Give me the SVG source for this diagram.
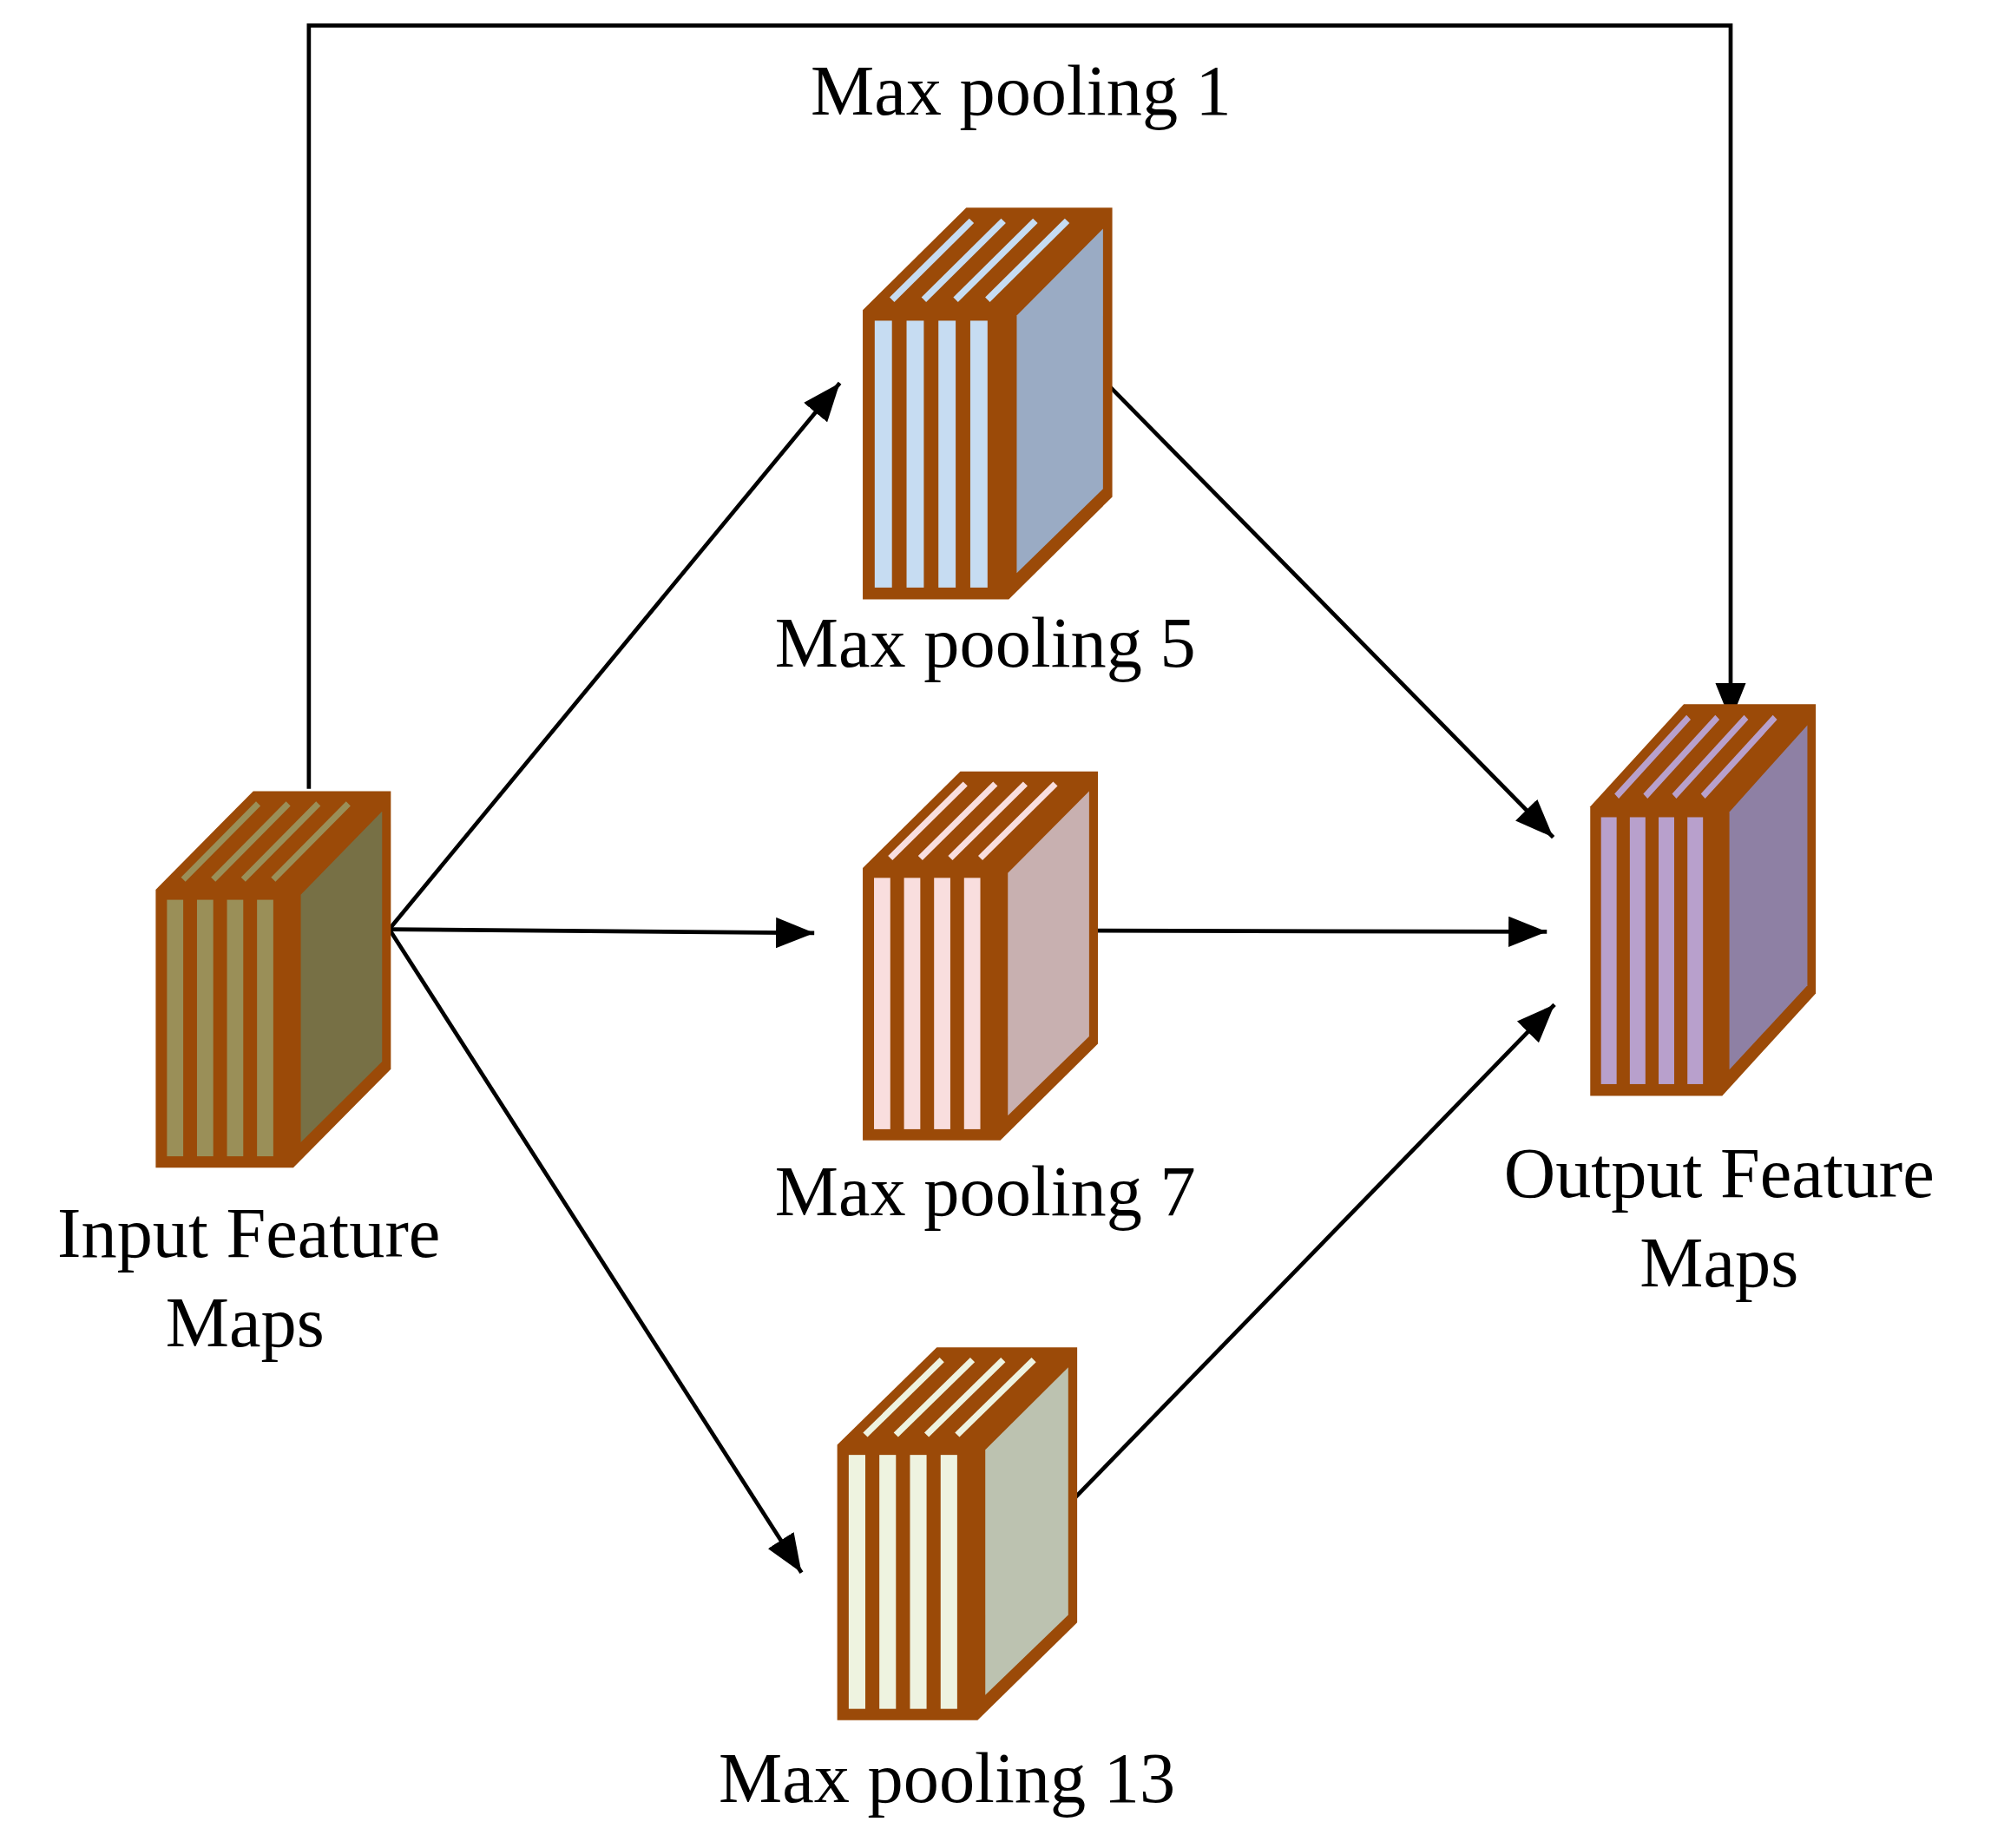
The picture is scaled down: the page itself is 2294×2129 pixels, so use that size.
<svg xmlns="http://www.w3.org/2000/svg" xmlns:xlink="http://www.w3.org/1999/xlink" width="2294" height="2129" viewBox="0 0 2294 2129">
<style>
.lbl{font-family:"Liberation Serif",serif;font-size:56px;fill:#000;text-anchor:middle}
.con{stroke:#000;stroke-width:3.2;fill:none}
</style>
<defs>
<marker id="ah" viewBox="0 0 10 10" refX="10" refY="5" markerWidth="9" markerHeight="8" markerUnits="userSpaceOnUse" orient="auto" style="overflow:visible">
<path d="M0,0 L10,5 L0,10 Z" fill="#000" transform="scale(1)"/>
</marker>
<marker id="a" viewBox="0 0 30 24" refX="30" refY="12" markerWidth="30" markerHeight="24" markerUnits="userSpaceOnUse" orient="auto">
<path d="M0,0 L30,12 L0,24 Z" fill="#000"/>
</marker>
<g id="blk">
<polygon points="0,0 78,-78 188,-78 188,142 110,220 0,220" fill="#9b4a08"/>
<polygon points="116,4 181,-62 181,136 116,200"/>
<rect x="9" y="8" width="13" height="203" fill="currentColor"/>
<rect x="33" y="8" width="13" height="203" fill="currentColor"/>
<rect x="57" y="8" width="13" height="203" fill="currentColor"/>
<rect x="81" y="8" width="13" height="203" fill="currentColor"/>
<g stroke="currentColor" stroke-width="5" fill="none">
<line x1="22" y1="-8" x2="82" y2="-68"/>
<line x1="46" y1="-8" x2="106" y2="-68"/>
<line x1="70" y1="-8" x2="130" y2="-68"/>
<line x1="94" y1="-8" x2="154" y2="-68"/>
</g>
</g>
</defs>
<rect width="2294" height="2129" fill="#fff"/>
<g transform="scale(1.4705)">
<g id="connectors">
<polyline class="con" points="242,618 242,20 1356,20 1356,565" marker-end="url(#a)"/>
<line class="con" x1="305" y1="728" x2="658" y2="300" marker-end="url(#a)"/>
<line class="con" x1="305" y1="728" x2="638" y2="731" marker-end="url(#a)"/>
<line class="con" x1="305" y1="728" x2="628" y2="1232" marker-end="url(#a)"/>
<line class="con" x1="852" y1="285" x2="1217" y2="656" marker-end="url(#a)"/>
<line class="con" x1="822" y1="729" x2="1212" y2="730" marker-end="url(#a)"/>
<line class="con" x1="795" y1="1222" x2="1218" y2="787" marker-end="url(#a)"/>
</g>
<g id="input"><use xlink:href="#blk" transform="translate(122,697) scale(0.98,0.99)" fill="#777045" color="#9a8f58"/>
<text class="lbl" x="195" y="985">Input Feature</text><text class="lbl" x="192" y="1055">Maps</text></g>
<g id="mp5"><use xlink:href="#blk" transform="translate(676,243) scale(1.04,1.03)" fill="#9aabc4" color="#c6dcf2"/>
<text class="lbl" x="772" y="522">Max pooling 5</text></g>
<g id="mp7"><use xlink:href="#blk" transform="translate(676,680) scale(0.98,0.97)" fill="#c8b0b0" color="#f9dede"/>
<text class="lbl" x="772" y="952">Max pooling 7</text></g>
<g id="mp13"><use xlink:href="#blk" transform="translate(656,1132) scale(1.0,0.98)" fill="#bcc2b0" color="#eef3e0"/>
<text class="lbl" x="742" y="1412">Max pooling 13</text></g>
<g id="output"><use xlink:href="#blk" transform="translate(1246,632) scale(0.94,1.03)" fill="#8e80a4" color="#b8a0cc"/>
<text class="lbl" x="1347" y="938">Output Feature</text><text class="lbl" x="1347" y="1008">Maps</text></g>
<g id="mp1"><text class="lbl" x="800" y="90">Max pooling 1</text></g>
</g>
</svg>
